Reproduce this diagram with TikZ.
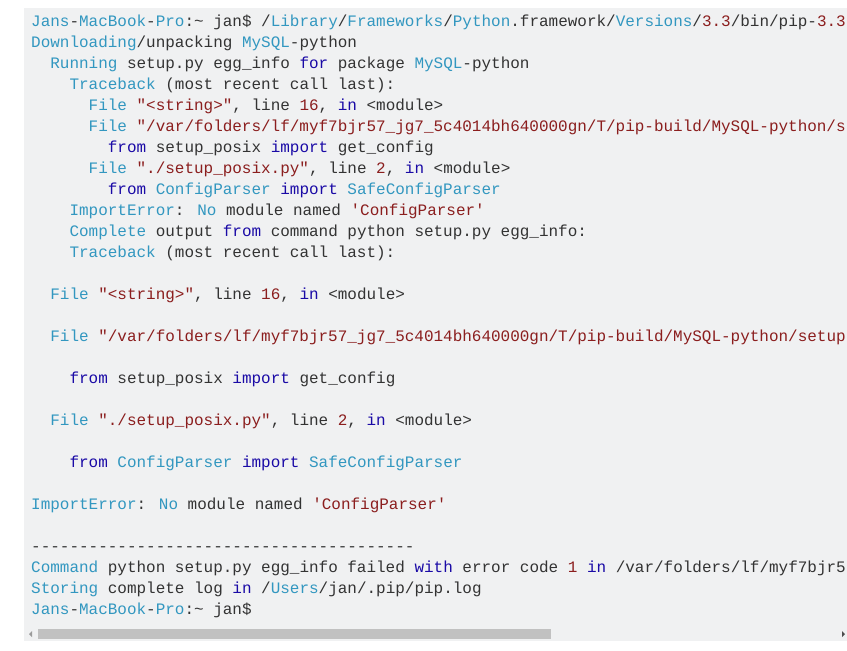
\documentclass[tikz,border=0pt]{standalone}
\usepackage{fontspec}
\newfontfamily\codefont{Liberation Mono}
\definecolor{bgcol}{HTML}{F0F1F2}
\definecolor{txtcol}{HTML}{333333}
\definecolor{cycol}{HTML}{3297C0}
\definecolor{kwcol}{HTML}{1A0AA6}
\definecolor{stcol}{HTML}{8B1E1E}
\definecolor{barcol}{HTML}{C1C1C1}
\newcommand\cy[1]{\textcolor{cycol}{#1}}
\newcommand\kw[1]{\textcolor{kwcol}{#1}}
\newcommand\st[1]{\textcolor{stcol}{#1}}
\newcommand\codeline[4]{\node[codeln] (#1) at (31+#2*9.58, 26+21*#3) {#4};}
\begin{document}
\begin{tikzpicture}[x=1pt, y=-1pt]
    % ==========================
    % 設定
    % ==========================
    \tikzset{
        codeln/.style={anchor=base west, inner sep=0pt, text=txtcol,
            font=\codefont\fontsize{15.97}{21}\selectfont}
    }
    \useasboundingbox (0,0) rectangle (847,651);

    % 背景
    \fill[bgcol] (24,8) rectangle (847,641);

    % ==========================
    % 1. コード行
    % ==========================
    \begin{scope}
        \clip (24,8) rectangle (847,641);
        \codeline{l1}{0}{0}{\cy{Jans}-\cy{MacBook}-\cy{Pro}:\textasciitilde{} jan\$ /\cy{Library}/\cy{Frameworks}/\cy{Python}.framework/\cy{Versions}/\st{3.3}/bin/pip-\st{3.3}}
        \codeline{l2}{0}{1}{\cy{Downloading}/unpacking \cy{MySQL}-python}
        \codeline{l3}{2}{2}{\cy{Running} setup.py egg\_info \kw{for} package \cy{MySQL}-python}
        \codeline{l4}{4}{3}{\cy{Traceback} (most recent call last):}
        \codeline{l5}{6}{4}{\cy{File} \st{"<string>"}, line \st{16}, \kw{in} <module>}
        \codeline{l6}{6}{5}{\cy{File} \st{"/var/folders/lf/myf7bjr57\_jg7\_5c4014bh640000gn/T/pip-build/MySQL-python/s}}
        \codeline{l7}{8}{6}{\kw{from} setup\_posix \kw{import} get\_config}
        \codeline{l8}{6}{7}{\cy{File} \st{"./setup\_posix.py"}, line \st{2}, \kw{in} <module>}
        \codeline{l9}{8}{8}{\kw{from} \cy{ConfigParser} \kw{import} \cy{SafeConfigParser}}
        \codeline{l10}{4}{9}{\cy{ImportError}: \cy{No} module named \st{'ConfigParser'}}
        \codeline{l11}{4}{10}{\cy{Complete} output \kw{from} command python setup.py egg\_info:}
        \codeline{l12}{4}{11}{\cy{Traceback} (most recent call last):}
        \codeline{l14}{2}{13}{\cy{File} \st{"<string>"}, line \st{16}, \kw{in} <module>}
        \codeline{l16}{2}{15}{\cy{File} \st{"/var/folders/lf/myf7bjr57\_jg7\_5c4014bh640000gn/T/pip-build/MySQL-python/setup}}
        \codeline{l18}{4}{17}{\kw{from} setup\_posix \kw{import} get\_config}
        \codeline{l20}{2}{19}{\cy{File} \st{"./setup\_posix.py"}, line \st{2}, \kw{in} <module>}
        \codeline{l22}{4}{21}{\kw{from} \cy{ConfigParser} \kw{import} \cy{SafeConfigParser}}
        \codeline{l24}{0}{23}{\cy{ImportError}: \cy{No} module named \st{'ConfigParser'}}
        \codeline{l26}{0}{25}{----------------------------------------}
        \codeline{l27}{0}{26}{\cy{Command} python setup.py egg\_info failed \kw{with} error code \st{1} \kw{in} /var/folders/lf/myf7bjr5}
        \codeline{l28}{0}{27}{\cy{Storing} complete log \kw{in} /\cy{Users}/jan/.pip/pip.log}
        \codeline{l29}{0}{28}{\cy{Jans}-\cy{MacBook}-\cy{Pro}:\textasciitilde{} jan\$}
    \end{scope}

    % ==========================
    % 2. スクロールバー
    % ==========================
    \fill[barcol] (38,629) rectangle (551,639);
    \fill[barcol!80!black] (29,634) -- (32,631) -- (32,637) -- cycle;
    \fill[black!70] (845,634) -- (842,631) -- (842,637) -- cycle;
\end{tikzpicture}
\end{document}
